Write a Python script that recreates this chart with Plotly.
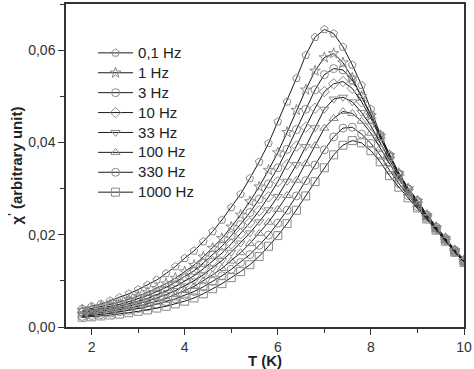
import plotly.graph_objects as go

T = [1.8, 2.0, 2.2, 2.4, 2.6, 2.8, 3.0, 3.2, 3.4, 3.6, 3.8, 4.0, 4.2, 4.4, 4.6, 4.8,
     5.0, 5.2, 5.4, 5.6, 5.8, 6.0, 6.2, 6.4, 6.6, 6.8, 7.0, 7.2, 7.4, 7.6, 7.8, 8.0,
     8.2, 8.4, 8.6, 8.8, 9.0, 9.2, 9.4, 9.6, 9.8, 10.0]

chi_0_1Hz = [0.0040, 0.0045, 0.0050, 0.0057, 0.0064, 0.0072, 0.0081, 0.0091, 0.0102, 0.0116,
             0.0131, 0.0149, 0.0165, 0.0185, 0.0207, 0.0232, 0.0259, 0.0288, 0.0322, 0.0358,
             0.0398, 0.0445, 0.0488, 0.0539, 0.0589, 0.0628, 0.0645, 0.0636, 0.0607, 0.0568,
             0.0524, 0.0472, 0.0418, 0.0374, 0.0334, 0.0301, 0.0275, 0.0244, 0.0218, 0.0194,
             0.0168, 0.0146]
chi_1Hz = [0.0036, 0.0040, 0.0044, 0.0049, 0.0054, 0.0060, 0.0067, 0.0075, 0.0084, 0.0094,
           0.0106, 0.0120, 0.0134, 0.0152, 0.0171, 0.0192, 0.0217, 0.0243, 0.0272, 0.0304,
           0.0340, 0.0378, 0.0422, 0.0470, 0.0514, 0.0555, 0.0584, 0.0593, 0.0573, 0.0540,
           0.0500, 0.0458, 0.0414, 0.0372, 0.0333, 0.0300, 0.0273, 0.0242, 0.0216, 0.0192,
           0.0166, 0.0144]
chi_3Hz = [0.0033, 0.0036, 0.0040, 0.0045, 0.0049, 0.0055, 0.0061, 0.0068, 0.0077, 0.0086,
           0.0097, 0.0109, 0.0122, 0.0139, 0.0156, 0.0175, 0.0198, 0.0222, 0.0248, 0.0277,
           0.0310, 0.0345, 0.0385, 0.0428, 0.0472, 0.0514, 0.0547, 0.0560, 0.0557, 0.0535,
           0.0500, 0.0460, 0.0414, 0.0370, 0.0332, 0.0299, 0.0272, 0.0242, 0.0216, 0.0191,
           0.0166, 0.0144]
chi_10Hz = [0.0031, 0.0034, 0.0037, 0.0041, 0.0045, 0.0050, 0.0056, 0.0062, 0.0070, 0.0078,
            0.0088, 0.0099, 0.0111, 0.0126, 0.0142, 0.0160, 0.0180, 0.0202, 0.0226, 0.0252,
            0.0282, 0.0315, 0.0352, 0.0392, 0.0433, 0.0474, 0.0510, 0.0527, 0.0532, 0.0517,
            0.0488, 0.0452, 0.0410, 0.0368, 0.0330, 0.0298, 0.0270, 0.0241, 0.0215, 0.0190,
            0.0165, 0.0143]
chi_33Hz = [0.0028, 0.0031, 0.0034, 0.0037, 0.0041, 0.0045, 0.0050, 0.0056, 0.0063, 0.0070,
            0.0079, 0.0089, 0.0100, 0.0113, 0.0128, 0.0144, 0.0162, 0.0182, 0.0204, 0.0228,
            0.0254, 0.0283, 0.0316, 0.0352, 0.0391, 0.0432, 0.0472, 0.0494, 0.0498, 0.0488,
            0.0465, 0.0436, 0.0400, 0.0362, 0.0326, 0.0295, 0.0268, 0.0239, 0.0214, 0.0189,
            0.0164, 0.0142]
chi_100Hz = [0.0026, 0.0028, 0.0031, 0.0034, 0.0037, 0.0041, 0.0045, 0.0050, 0.0056, 0.0062,
             0.0070, 0.0079, 0.0088, 0.0100, 0.0113, 0.0127, 0.0143, 0.0161, 0.0181, 0.0203,
             0.0227, 0.0255, 0.0285, 0.0318, 0.0354, 0.0393, 0.0431, 0.0452, 0.0467, 0.0463,
             0.0446, 0.0420, 0.0388, 0.0354, 0.0321, 0.0291, 0.0265, 0.0237, 0.0212, 0.0188,
             0.0163, 0.0141]
chi_330Hz = [0.0023, 0.0025, 0.0027, 0.0030, 0.0033, 0.0036, 0.0040, 0.0044, 0.0049, 0.0055,
             0.0061, 0.0069, 0.0077, 0.0087, 0.0099, 0.0111, 0.0125, 0.0140, 0.0157, 0.0177,
             0.0199, 0.0225, 0.0253, 0.0284, 0.0317, 0.0351, 0.0384, 0.0412, 0.0431, 0.0433,
             0.0418, 0.0398, 0.0372, 0.0340, 0.0311, 0.0285, 0.0261, 0.0236, 0.0211, 0.0187,
             0.0162, 0.0141]
chi_1000Hz = [0.0021, 0.0022, 0.0024, 0.0026, 0.0028, 0.0031, 0.0034, 0.0037, 0.0041, 0.0045,
              0.0050, 0.0056, 0.0063, 0.0072, 0.0083, 0.0094, 0.0107, 0.0120, 0.0135, 0.0153,
              0.0175, 0.0198, 0.0224, 0.0253, 0.0284, 0.0315, 0.0345, 0.0373, 0.0394, 0.0404,
              0.0399, 0.0382, 0.0358, 0.0328, 0.0303, 0.0280, 0.0258, 0.0234, 0.0210, 0.0186,
              0.0162, 0.0140]

labels = ["0,1 Hz", "1 Hz", "3 Hz", "10 Hz", "33 Hz", "100 Hz", "330 Hz", "1000 Hz"]
series = [chi_0_1Hz, chi_1Hz, chi_3Hz, chi_10Hz, chi_33Hz, chi_100Hz, chi_330Hz, chi_1000Hz]
symbols = ["pentagon-open", "star-open", "circle-open", "diamond-open",
           "triangle-down-open", "triangle-up-open", "circle-open", "square-open"]

FONT = "Arial, Liberation Sans, sans-serif"

fig = go.Figure()
for lab, ys, sym in zip(labels, series, symbols):
    fig.add_trace(go.Scatter(
        x=T, y=ys, name='<span style="font-size:15px">' + lab + '</span>', mode="lines+markers",
        line=dict(color="#1a1a1a", width=1),
        marker=dict(symbol=sym, size=8, color="#8a8a8a", line=dict(color="#8a8a8a", width=1)),
    ))

axis_common = dict(
    showline=True, linecolor="#333333", linewidth=1.5, mirror=True,
    ticks="outside", ticklen=6, tickwidth=1.2, tickcolor="#333333",
    showgrid=False, zeroline=False, automargin=False,
    tickfont=dict(family=FONT, size=14, color="#333333"),
)

fig.update_layout(
    template="none",
    width=474, height=369,
    margin=dict(l=66, r=10, t=4, b=42, autoexpand=False),
    paper_bgcolor="white", plot_bgcolor="white",
    separators=",.",
    showlegend=True,
    legend=dict(x=0.068, y=0.895, xanchor="left", yanchor="top",
                bgcolor="rgba(0,0,0,0)", font=dict(family=FONT, size=13, color="#222222"),
                tracegroupgap=0, itemwidth=35),
    xaxis=dict(range=[1.45, 10], dtick=2, tick0=0,
               minor=dict(ticks="outside", ticklen=4, dtick=1, tick0=0, tickcolor="#333333"),
               title=dict(text="<b>T (K)</b>", font=dict(family=FONT, size=15, color="#222222"), standoff=4),
               **axis_common),
    yaxis=dict(range=[0, 0.07], dtick=0.02, tick0=0, tickformat=".2f",
               minor=dict(ticks="outside", ticklen=4, dtick=0.01, tick0=0, tickcolor="#333333"),
               title=dict(text="<b>χ<sup>'</sup> (arbitrary unit)</b>", font=dict(family=FONT, size=15, color="#222222"), standoff=2),
               **axis_common),
)

fig.write_html("out.html", config={"displayModeBar": False},
               post_script="document.body.style.margin='0px';")
